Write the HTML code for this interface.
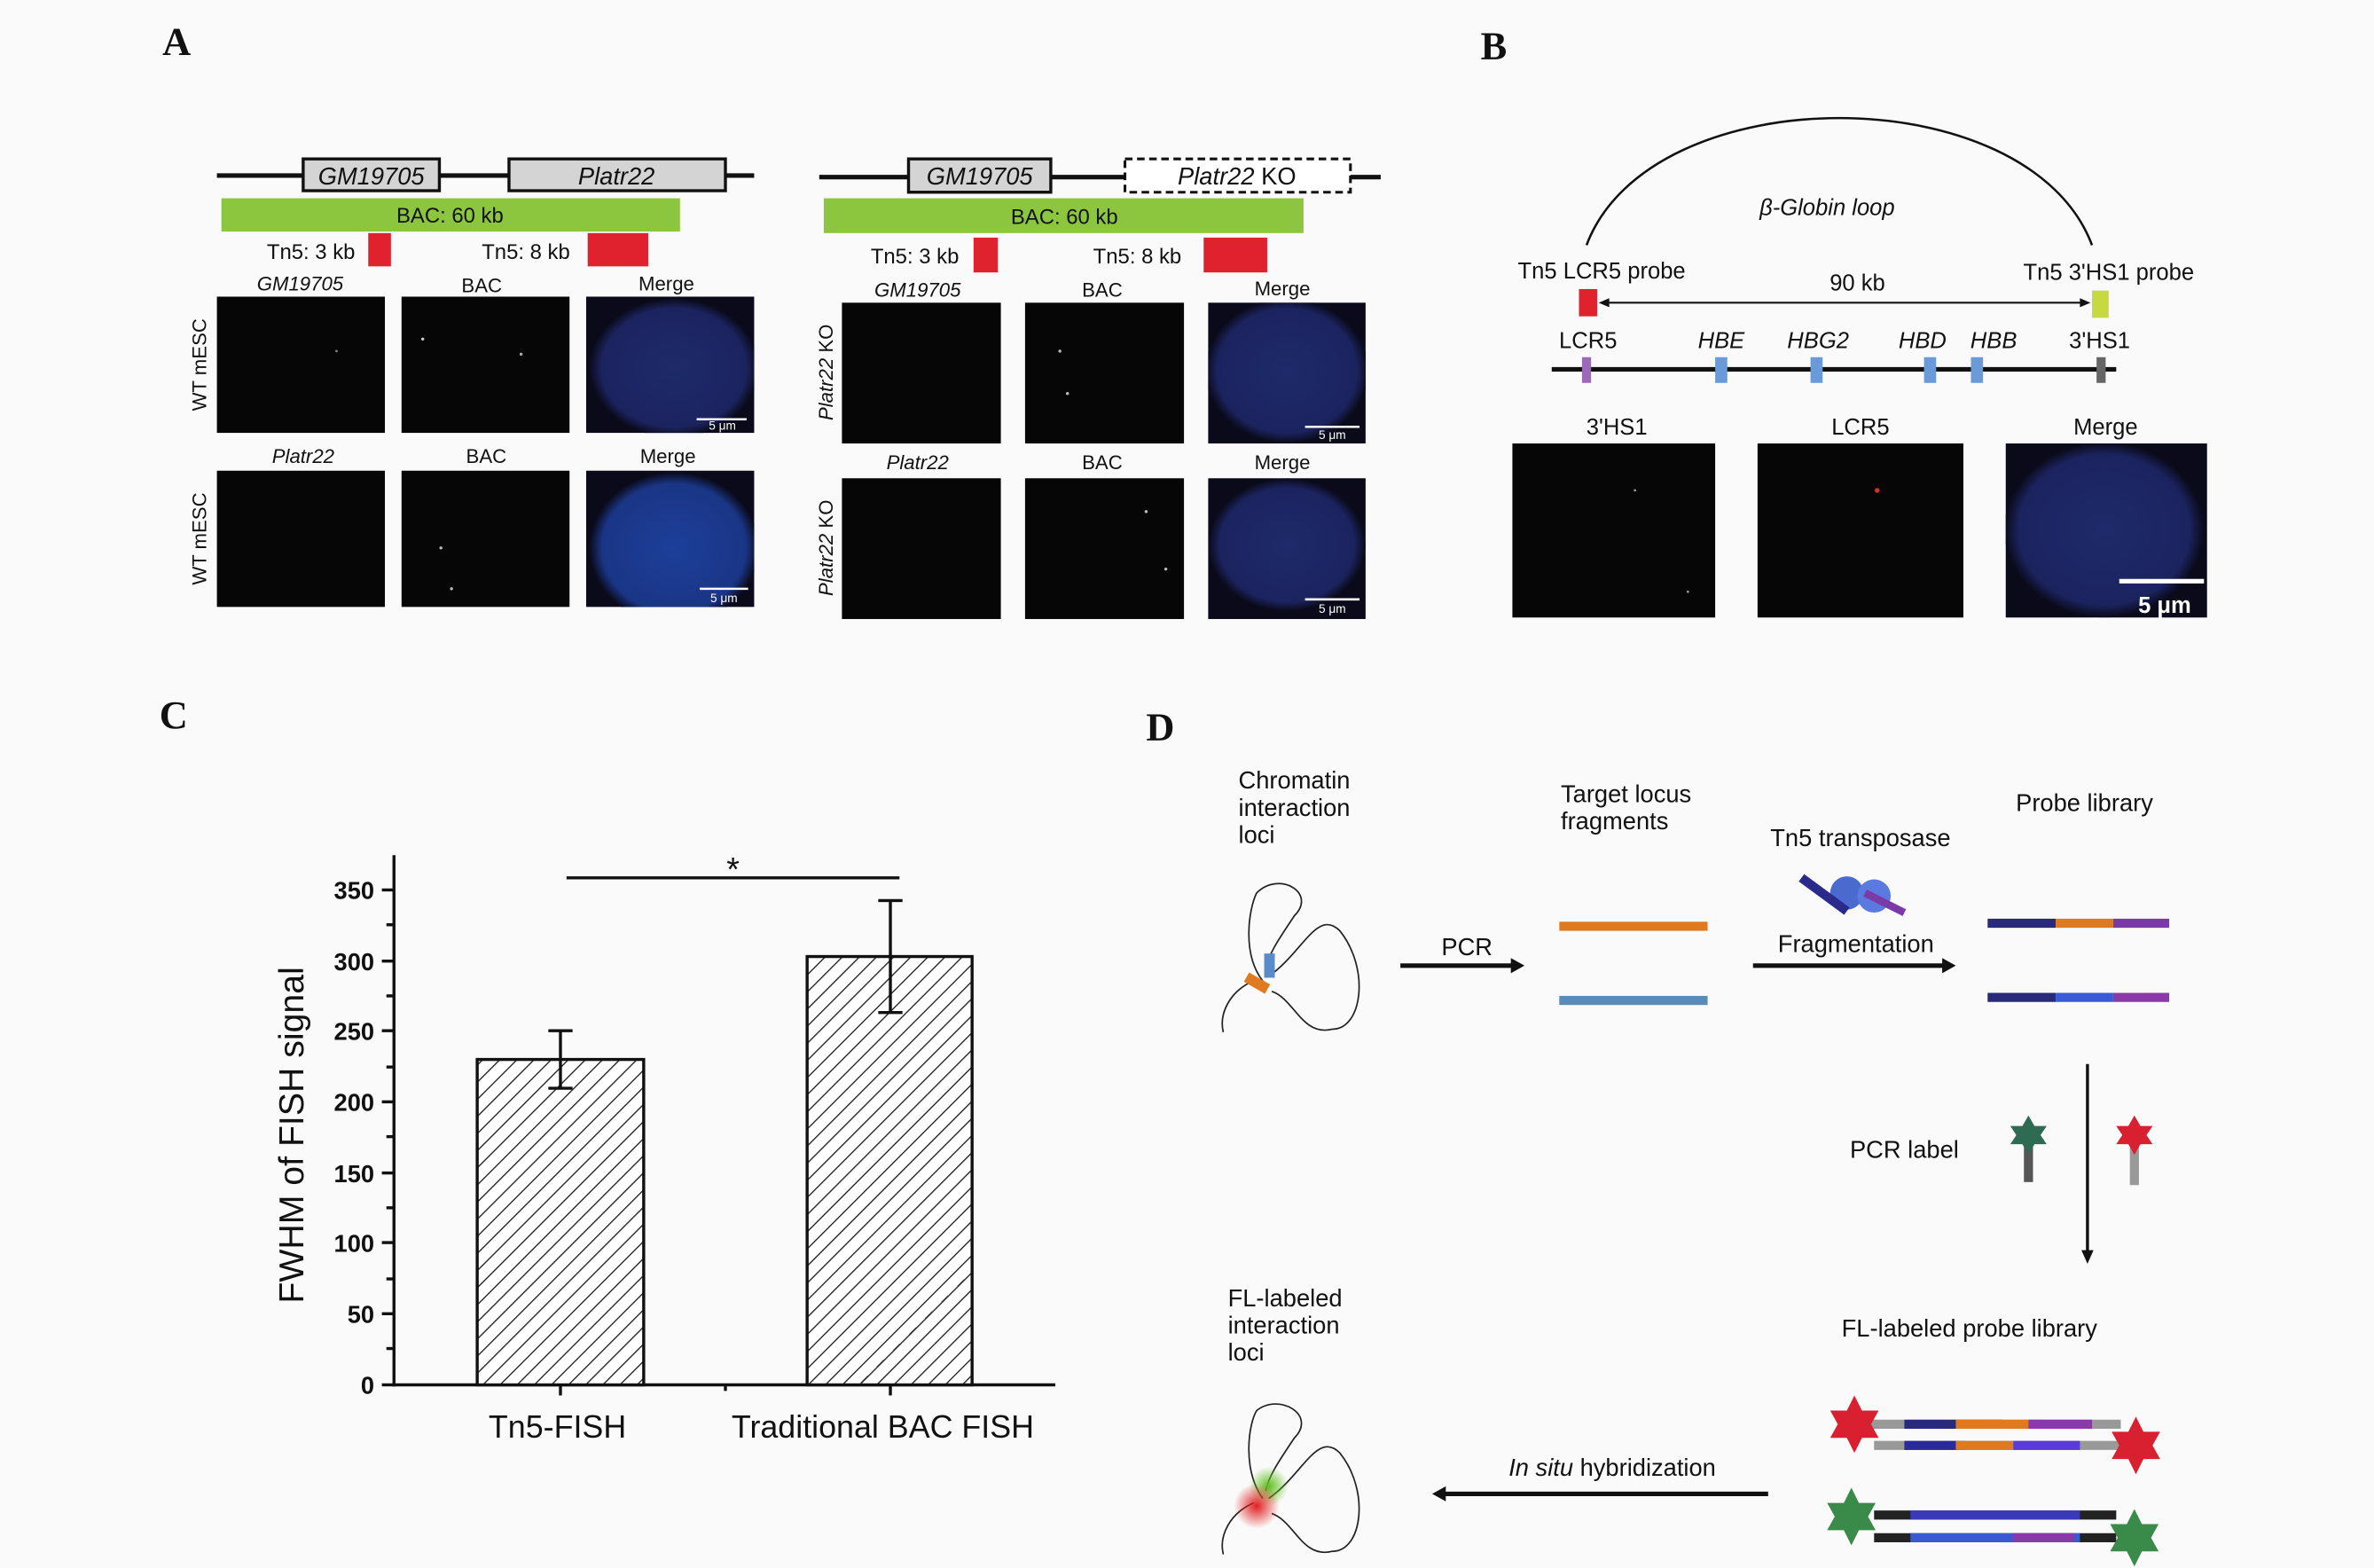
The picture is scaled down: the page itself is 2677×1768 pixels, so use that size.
<!DOCTYPE html>
<html><head><meta charset="utf-8"><style>
html,body{margin:0;padding:0;background:#fafafa;}
svg{display:block;}
text{font-family:"Liberation Sans",sans-serif;fill:#111;}
.s{font-family:"Liberation Serif",serif;font-weight:bold;font-size:26px;}
</style></head><body>
<svg width="2677" height="1768" viewBox="0 0 1568 1036" xmlns="http://www.w3.org/2000/svg">
<defs>
<radialGradient id="nucA" cx="50%" cy="50%" r="50%"><stop offset="0" stop-color="#1e2a6a"/><stop offset="0.85" stop-color="#1c2460"/><stop offset="1" stop-color="#0a0a1a"/></radialGradient>
<radialGradient id="nucB" cx="50%" cy="50%" r="50%"><stop offset="0" stop-color="#1d3f9a"/><stop offset="0.85" stop-color="#1a3585"/><stop offset="1" stop-color="#0a0a1a"/></radialGradient>
<pattern id="hatch" width="8" height="8" patternUnits="userSpaceOnUse" patternTransform="rotate(45)"><rect width="8" height="8" fill="#fff"/><line x1="0" y1="0" x2="0" y2="8" stroke="#222" stroke-width="1.6"/></pattern>
<radialGradient id="glowR"><stop offset="0" stop-color="#e02020"/><stop offset="1" stop-color="#e02020" stop-opacity="0"/></radialGradient>
<radialGradient id="glowG"><stop offset="0" stop-color="#60c020"/><stop offset="1" stop-color="#60c020" stop-opacity="0"/></radialGradient>
<clipPath id="c1"><rect x="387" y="196" width="111" height="90"/></clipPath>
<clipPath id="c2"><rect x="387" y="311" width="111" height="90"/></clipPath>
<clipPath id="c3"><rect x="798" y="200" width="104" height="93"/></clipPath>
<clipPath id="c4"><rect x="798" y="316" width="104" height="93"/></clipPath>
<clipPath id="c5"><rect x="1325" y="293" width="133" height="115"/></clipPath>
</defs>
<rect width="1568" height="1036" fill="#fafafa"/>

<!-- Panel A -->
<text class="s" x="107" y="36">A</text>
<line x1="143" y1="116" x2="498" y2="116" stroke="#111" stroke-width="3"/>
<rect x="200" y="105" width="90" height="21" fill="#d4d4d4" stroke="#111" stroke-width="2"/>
<text x="245" y="122" font-size="16" font-style="italic" text-anchor="middle">GM19705</text>
<rect x="336" y="105" width="143" height="21" fill="#d4d4d4" stroke="#111" stroke-width="2"/>
<text x="407" y="122" font-size="16" font-style="italic" text-anchor="middle">Platr22</text>
<rect x="146" y="131" width="303" height="22" fill="#8cc63f"/>
<text x="297" y="147" font-size="14" text-anchor="middle">BAC: 60 kb</text>
<rect x="243" y="154" width="15" height="22" fill="#e0222e"/>
<rect x="388" y="154" width="40" height="22" fill="#e0222e"/>
<text x="176" y="171" font-size="14">Tn5: 3 kb</text>
<text x="318" y="171" font-size="14">Tn5: 8 kb</text>
<text x="198" y="192" font-size="13" font-style="italic" text-anchor="middle">GM19705</text>
<text x="318" y="193" font-size="13" text-anchor="middle">BAC</text>
<text x="440" y="192" font-size="13" text-anchor="middle">Merge</text>
<rect x="143" y="196" width="111" height="90" fill="#060606"/>
<rect x="265" y="196" width="111" height="90" fill="#060606"/>
<rect x="387" y="196" width="111" height="90" fill="#0a0a1a"/>
<ellipse cx="445" cy="243" rx="56" ry="46" fill="url(#nucA)" clip-path="url(#c1)"/>
<line x1="460" y1="277" x2="493" y2="277" stroke="#fff" stroke-width="1.5"/>
<text x="477" y="284" font-size="8" style="fill:#fff" text-anchor="middle">5 μm</text>
<circle cx="279" cy="224" r="1" fill="#ccc"/><circle cx="344" cy="234" r="1" fill="#aaa"/><circle cx="222" cy="232" r="0.8" fill="#888"/>
<text x="200" y="306" font-size="13" font-style="italic" text-anchor="middle">Platr22</text>
<text x="321" y="306" font-size="13" text-anchor="middle">BAC</text>
<text x="441" y="306" font-size="13" text-anchor="middle">Merge</text>
<rect x="143" y="311" width="111" height="90" fill="#060606"/>
<rect x="265" y="311" width="111" height="90" fill="#060606"/>
<rect x="387" y="311" width="111" height="90" fill="#0a0a1a"/>
<ellipse cx="445" cy="362" rx="56" ry="50" fill="url(#nucB)" clip-path="url(#c2)"/>
<line x1="462" y1="389" x2="494" y2="389" stroke="#fff" stroke-width="1.5"/>
<text x="478" y="398" font-size="8" style="fill:#fff" text-anchor="middle">5 μm</text>
<circle cx="291" cy="362" r="1" fill="#bbb"/><circle cx="298" cy="389" r="1" fill="#bbb"/>
<text transform="translate(136,241) rotate(-90)" font-size="13" text-anchor="middle">WT mESC</text>
<text transform="translate(136,356) rotate(-90)" font-size="13" text-anchor="middle">WT mESC</text>

<line x1="541" y1="117" x2="912" y2="117" stroke="#111" stroke-width="3"/>
<rect x="600" y="105" width="94" height="22" fill="#d4d4d4" stroke="#111" stroke-width="2"/>
<text x="647" y="122" font-size="16" font-style="italic" text-anchor="middle">GM19705</text>
<rect x="743" y="105" width="149" height="22" fill="#fff" stroke="#111" stroke-width="1.8" stroke-dasharray="5,3"/>
<text x="817" y="122" font-size="16" text-anchor="middle"><tspan font-style="italic">Platr22</tspan> KO</text>
<rect x="544" y="131" width="317" height="23" fill="#8cc63f"/>
<text x="703" y="148" font-size="14" text-anchor="middle">BAC: 60 kb</text>
<rect x="643" y="157" width="16" height="23" fill="#e0222e"/>
<rect x="795" y="157" width="42" height="23" fill="#e0222e"/>
<text x="575" y="174" font-size="14">Tn5: 3 kb</text>
<text x="722" y="174" font-size="14">Tn5: 8 kb</text>
<text x="606" y="196" font-size="13" font-style="italic" text-anchor="middle">GM19705</text>
<text x="728" y="196" font-size="13" text-anchor="middle">BAC</text>
<text x="847" y="195" font-size="13" text-anchor="middle">Merge</text>
<rect x="556" y="200" width="105" height="93" fill="#060606"/>
<rect x="677" y="200" width="105" height="93" fill="#060606"/>
<rect x="798" y="200" width="104" height="93" fill="#0a0a1a"/>
<ellipse cx="850" cy="245" rx="54" ry="48" fill="url(#nucA)" clip-path="url(#c3)"/>
<line x1="862" y1="282" x2="898" y2="282" stroke="#fff" stroke-width="1.5"/>
<text x="880" y="290" font-size="8" style="fill:#fff" text-anchor="middle">5 μm</text>
<circle cx="700" cy="232" r="1" fill="#bbb"/><circle cx="705" cy="260" r="1" fill="#bbb"/>
<text x="606" y="310" font-size="13" font-style="italic" text-anchor="middle">Platr22</text>
<text x="728" y="310" font-size="13" text-anchor="middle">BAC</text>
<text x="847" y="310" font-size="13" text-anchor="middle">Merge</text>
<rect x="556" y="316" width="105" height="93" fill="#060606"/>
<rect x="677" y="316" width="105" height="93" fill="#060606"/>
<rect x="798" y="316" width="104" height="93" fill="#0a0a1a"/>
<ellipse cx="850" cy="360" rx="52" ry="44" fill="url(#nucA)" clip-path="url(#c4)"/>
<line x1="862" y1="396" x2="898" y2="396" stroke="#fff" stroke-width="1.5"/>
<text x="880" y="405" font-size="8" style="fill:#fff" text-anchor="middle">5 μm</text>
<circle cx="757" cy="338" r="1" fill="#bbb"/><circle cx="770" cy="376" r="1" fill="#bbb"/>
<text transform="translate(550,246) rotate(-90)" font-size="13" text-anchor="middle"><tspan font-style="italic">Platr22</tspan> KO</text>
<text transform="translate(550,362) rotate(-90)" font-size="13" text-anchor="middle"><tspan font-style="italic">Platr22</tspan> KO</text>

<!-- Panel B -->
<text class="s" x="978" y="39">B</text>
<path d="M1048,162 C1090,50 1340,50 1382,162" fill="none" stroke="#111" stroke-width="1.5"/>
<text x="1207" y="142" font-size="15" font-style="italic" text-anchor="middle">β-Globin loop</text>
<text x="1058" y="184" font-size="15" text-anchor="middle">Tn5 LCR5 probe</text>
<text x="1393" y="185" font-size="15" text-anchor="middle">Tn5 3'HS1 probe</text>
<rect x="1043" y="191" width="12" height="18" fill="#e0222e"/>
<rect x="1382" y="192" width="11" height="18" fill="#c8d840"/>
<line x1="1060" y1="200" x2="1377" y2="200" stroke="#111" stroke-width="1.2"/>
<path d="M1056,200 l7,-3 v6z M1381,200 l-7,-3 v6z" fill="#111"/>
<text x="1227" y="192" font-size="15" text-anchor="middle">90 kb</text>
<text x="1049" y="230" font-size="15" text-anchor="middle">LCR5</text>
<text x="1137" y="230" font-size="15" font-style="italic" text-anchor="middle">HBE</text>
<text x="1201" y="230" font-size="15" font-style="italic" text-anchor="middle">HBG2</text>
<text x="1270" y="230" font-size="15" font-style="italic" text-anchor="middle">HBD</text>
<text x="1317" y="230" font-size="15" font-style="italic" text-anchor="middle">HBB</text>
<text x="1387" y="230" font-size="15" text-anchor="middle">3'HS1</text>
<line x1="1025" y1="244" x2="1398" y2="244" stroke="#111" stroke-width="3"/>
<rect x="1045" y="236" width="6" height="17" fill="#9a6ab8"/>
<rect x="1133" y="236" width="8" height="17" fill="#6a9ad8"/>
<rect x="1196" y="236" width="8" height="17" fill="#6a9ad8"/>
<rect x="1271" y="236" width="8" height="17" fill="#6a9ad8"/>
<rect x="1302" y="236" width="8" height="17" fill="#6a9ad8"/>
<rect x="1385" y="236" width="6" height="17" fill="#666"/>
<text x="1068" y="287" font-size="15" text-anchor="middle">3'HS1</text>
<text x="1229" y="287" font-size="15" text-anchor="middle">LCR5</text>
<text x="1391" y="287" font-size="15" text-anchor="middle">Merge</text>
<rect x="999" y="293" width="134" height="115" fill="#060606"/>
<rect x="1161" y="293" width="136" height="115" fill="#060606"/>
<rect x="1325" y="293" width="133" height="115" fill="#0a0a1a"/>
<ellipse cx="1390" cy="350" rx="66" ry="58" fill="url(#nucA)" clip-path="url(#c5)"/>
<circle cx="1240" cy="324" r="1.6" fill="#d03030"/><circle cx="1080" cy="324" r="0.8" fill="#999"/><circle cx="1115" cy="391" r="0.8" fill="#999"/>
<line x1="1400" y1="384" x2="1456" y2="384" stroke="#fff" stroke-width="3"/>
<text x="1430" y="405" font-size="15" font-weight="bold" style="fill:#fff" text-anchor="middle">5 μm</text>

<!-- Panel C -->
<text class="s" x="105" y="481">C</text>
<line x1="260" y1="565" x2="260" y2="916" stroke="#111" stroke-width="2"/>
<line x1="259" y1="915" x2="697" y2="915" stroke="#111" stroke-width="2"/>
<g stroke="#111" stroke-width="2">
<line x1="252" y1="915" x2="260" y2="915"/><line x1="252" y1="868" x2="260" y2="868"/><line x1="252" y1="821" x2="260" y2="821"/><line x1="252" y1="775" x2="260" y2="775"/><line x1="252" y1="728" x2="260" y2="728"/><line x1="252" y1="681" x2="260" y2="681"/><line x1="252" y1="635" x2="260" y2="635"/><line x1="252" y1="588" x2="260" y2="588"/>
<line x1="255" y1="891" x2="260" y2="891"/><line x1="255" y1="845" x2="260" y2="845"/><line x1="255" y1="798" x2="260" y2="798"/><line x1="255" y1="751" x2="260" y2="751"/><line x1="255" y1="705" x2="260" y2="705"/><line x1="255" y1="658" x2="260" y2="658"/><line x1="255" y1="611" x2="260" y2="611"/>
<line x1="370" y1="915" x2="370" y2="922"/><line x1="588" y1="915" x2="588" y2="922"/><line x1="479" y1="915" x2="479" y2="919"/>
</g>
<g font-size="16" font-weight="bold" text-anchor="end">
<text x="247" y="921">0</text><text x="247" y="874">50</text><text x="247" y="827">100</text><text x="247" y="781">150</text><text x="247" y="734">200</text><text x="247" y="687">250</text><text x="247" y="641">300</text><text x="247" y="594">350</text>
</g>
<text transform="translate(200,750) rotate(-90)" font-size="23" text-anchor="middle">FWHM of FISH signal</text>
<rect x="315" y="700" width="110" height="215" fill="url(#hatch)" stroke="#111" stroke-width="2"/>
<rect x="533" y="632" width="109" height="283" fill="url(#hatch)" stroke="#111" stroke-width="2"/>
<g stroke="#111" stroke-width="2">
<line x1="370" y1="681" x2="370" y2="719"/><line x1="362" y1="681" x2="378" y2="681"/><line x1="362" y1="719" x2="378" y2="719"/>
<line x1="588" y1="595" x2="588" y2="669"/><line x1="580" y1="595" x2="596" y2="595"/><line x1="580" y1="669" x2="596" y2="669"/>
<line x1="374" y1="580" x2="594" y2="580"/>
</g>
<text x="484" y="582" font-size="22" text-anchor="middle">*</text>
<text x="368" y="950" font-size="21" text-anchor="middle">Tn5-FISH</text>
<text x="583" y="950" font-size="21" text-anchor="middle">Traditional BAC FISH</text>

<!-- Panel D -->
<text class="s" x="757" y="489">D</text>
<g font-size="16">
<text x="818" y="521">Chromatin</text><text x="818" y="539">interaction</text><text x="818" y="557">loci</text>
<text x="1031" y="530">Target locus</text><text x="1031" y="548">fragments</text>
<text x="1229" y="559" text-anchor="middle">Tn5 transposase</text>
<text x="1377" y="536" text-anchor="middle">Probe library</text>
<text x="969" y="631" text-anchor="middle">PCR</text>
<text x="1226" y="629" text-anchor="middle">Fragmentation</text>
<text x="1258" y="765" text-anchor="middle">PCR label</text>
<text x="811" y="863">FL-labeled</text><text x="811" y="881">interaction</text><text x="811" y="899">loci</text>
<text x="1301" y="883" text-anchor="middle">FL-labeled probe library</text>
<text x="1065" y="975" text-anchor="middle"><tspan font-style="italic">In situ</tspan> hybridization</text>
</g>
<g fill="none" stroke="#222" stroke-width="1">
<path d="M834,648 C820,630 825,600 830,590 C845,575 870,590 855,605 C845,620 838,630 836,640 M838,645 C860,630 870,600 885,615 C905,640 900,680 880,680 C860,685 855,660 840,655 M828,648 C812,655 805,670 808,682"/>
<path d="M834,990 C820,970 825,940 830,932 C845,920 870,935 855,950 C845,965 838,975 836,985 M838,990 C860,975 870,945 885,960 C905,985 900,1025 880,1025 C860,1030 855,1005 840,1000 M828,993 C812,1000 805,1015 808,1027"/>
</g>
<rect x="835" y="630" width="7" height="16" fill="#5a8ac8"/>
<rect x="822" y="646" width="16" height="7" fill="#e07a20" transform="rotate(30 830 650)"/>
<circle cx="838" cy="982" r="13" fill="url(#glowG)"/>
<circle cx="830" cy="995" r="15" fill="url(#glowR)"/>
<rect x="1030" y="609" width="98" height="6" fill="#e07a20"/>
<rect x="1030" y="658" width="98" height="6" fill="#5a8ab8"/>
<rect x="1313" y="607" width="45" height="6" fill="#2a2a7a"/><rect x="1358" y="607" width="38" height="6" fill="#e07a20"/><rect x="1396" y="607" width="37" height="6" fill="#7a3aa8"/>
<rect x="1313" y="656" width="45" height="6" fill="#2a2a7a"/><rect x="1358" y="656" width="38" height="6" fill="#3a5ad8"/><rect x="1396" y="656" width="37" height="6" fill="#8a3aa8"/>
<circle cx="1220" cy="590" r="11" fill="#4a6ad0"/><circle cx="1238" cy="592" r="11" fill="#5a7ae0"/>
<line x1="1190" y1="580" x2="1220" y2="602" stroke="#2a2a8a" stroke-width="6"/><line x1="1232" y1="590" x2="1258" y2="603" stroke="#7a3aa8" stroke-width="5"/>
<g stroke="#111" stroke-width="3">
<line x1="925" y1="638" x2="1000" y2="638"/><line x1="1158" y1="638" x2="1285" y2="638"/>
<line x1="950" y1="987" x2="1168" y2="987"/>
</g>
<line x1="1379" y1="703" x2="1379" y2="828" stroke="#111" stroke-width="2"/>
<path d="M1007,638 l-9,-5 v10z M1292,638 l-9,-5 v10z M946,987 l9,-5 v10z M1379,835 l-4,-9 h8z" fill="#111"/>
<rect x="1337" y="755" width="6" height="26" fill="#555"/>
<polygon points="1340,737 1344,744 1352,744 1348,750 1352,756 1344,756 1340,763 1336,756 1328,756 1332,750 1328,744 1336,744" fill="#2f6a52"/>
<rect x="1407" y="758" width="6" height="25" fill="#999"/>
<polygon points="1410,737 1414,744 1422,744 1418,750 1422,756 1414,756 1410,763 1406,756 1398,756 1402,750 1398,744 1406,744" fill="#d82030"/>
<rect x="1236" y="938" width="165" height="6" fill="#999"/>
<rect x="1258" y="938" width="65" height="6" fill="#2a2a7a"/><rect x="1292" y="938" width="58" height="6" fill="#e07a20"/><rect x="1340" y="938" width="42" height="6" fill="#8a3aa8"/>
<rect x="1238" y="952" width="165" height="6" fill="#999"/>
<rect x="1258" y="952" width="40" height="6" fill="#2a2a9a"/><rect x="1292" y="952" width="38" height="6" fill="#e07a20"/><rect x="1330" y="952" width="44" height="6" fill="#5a3ad8"/>
<rect x="1238" y="998" width="160" height="6" fill="#222"/>
<rect x="1262" y="998" width="112" height="6" fill="#3a3ab8"/>
<rect x="1238" y="1013" width="160" height="6" fill="#222"/>
<rect x="1262" y="1013" width="112" height="6" fill="#3a5ad0"/><rect x="1330" y="1013" width="40" height="6" fill="#8a3aa8"/>
<polygon points="1225,922 1230,932 1241,932 1236,941 1241,950 1230,950 1225,960 1220,950 1209,950 1214,941 1209,932 1220,932" fill="#d82030"/>
<polygon points="1411,936 1416,946 1427,946 1422,955 1427,964 1416,964 1411,974 1406,964 1395,964 1400,955 1395,946 1406,946" fill="#d82030"/>
<polygon points="1223,983 1228,993 1239,993 1234,1002 1239,1011 1228,1011 1223,1021 1218,1011 1207,1011 1212,1002 1207,993 1218,993" fill="#3a8a4a"/>
<polygon points="1410,997 1415,1007 1426,1007 1421,1016 1426,1025 1415,1025 1410,1035 1405,1025 1394,1025 1399,1016 1394,1007 1405,1007" fill="#3a8a4a"/>
</svg>
</body></html>
